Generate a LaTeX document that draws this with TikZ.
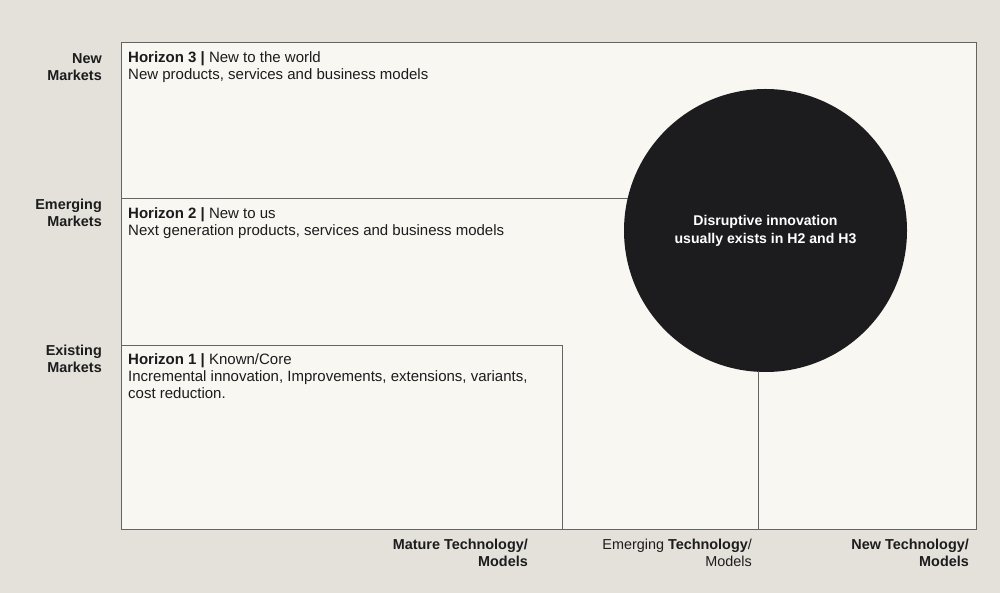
\documentclass[tikz,border=0pt]{standalone}
\usepackage{fontspec}
\setmainfont{Liberation Sans}
\definecolor{bg}{RGB}{228,225,218}
\definecolor{panel}{RGB}{249,247,241}
\definecolor{ink}{RGB}{28,28,30}
\definecolor{rule}{RGB}{100,100,100}
\begin{document}
\begin{tikzpicture}[x=1pt,y=-1pt,
  lbl/.style={font=\fontsize{14.4}{17}\selectfont\bfseries, text=ink, align=right, inner sep=0pt},
  hz/.style={font=\fontsize{15}{17.2}\selectfont, text=ink, align=left, inner sep=0pt, anchor=north west},
  frame/.style={draw=rule, line width=0.9pt}]
\useasboundingbox (0,0) rectangle (1000,593);
\fill[bg] (0,0) rectangle (1000,593);
\coordinate (tl) at (121,42);
\coordinate (br) at (976,529);
\fill[panel] (tl) rectangle (br);
\draw[frame] (tl) rectangle (br);
% horizon 2 divider
\coordinate (h2l) at (121,198);
\coordinate (h2r) at (640,198);
\draw[frame] (h2l) -- (h2r);
% horizon 1 box
\coordinate (h1tl) at (121,345);
\coordinate (h1br) at (562,529);
\draw[frame] (h1tl) rectangle (h1br);
% circle
\node[circle, fill=ink, minimum size=283pt, inner sep=0pt] (circ) at (765.5,230.5) {};
\node[font=\fontsize{14.1}{18}\selectfont\bfseries, text=white, align=center, inner sep=0pt] (ctext) at (765.5,231) {Disruptive innovation\\usually exists in H2 and H3};
\coordinate (vtop) at (758,371);
\coordinate (vbot) at (758,529);
\draw[frame] (vtop) -- (vbot);
% left labels
\node[lbl, anchor=east] (newm) at (102,67.5) {New\\Markets};
\node[lbl, anchor=east] (emm) at (102,212.5) {Emerging\\Markets};
\node[lbl, anchor=east] (exm) at (102,358.5) {Existing\\Markets};
% horizon texts
\node[hz] (h3) at (128,51) {\textbf{Horizon 3 |} New to the world\\New products, services and business models};
\node[hz] (h2) at (128,207) {\textbf{Horizon 2 |} New to us\\Next generation products, services and business models};
\node[hz] (h1) at (128,353) {\textbf{Horizon 1 |} Known/Core\\Incremental innovation, Improvements, extensions, variants,\\cost reduction.};
% bottom labels
\node[lbl, anchor=north east] (mat) at (528,538.5) {Mature Technology/\\Models};
\node[lbl, anchor=north east, font=\fontsize{14.4}{17}\selectfont] (emt) at (752,538.5) {Emerging \textbf{Technology}/\\Models};
\node[lbl, anchor=north east] (newt) at (969,538.5) {New Technology/\\Models};
\end{tikzpicture}
\end{document}
